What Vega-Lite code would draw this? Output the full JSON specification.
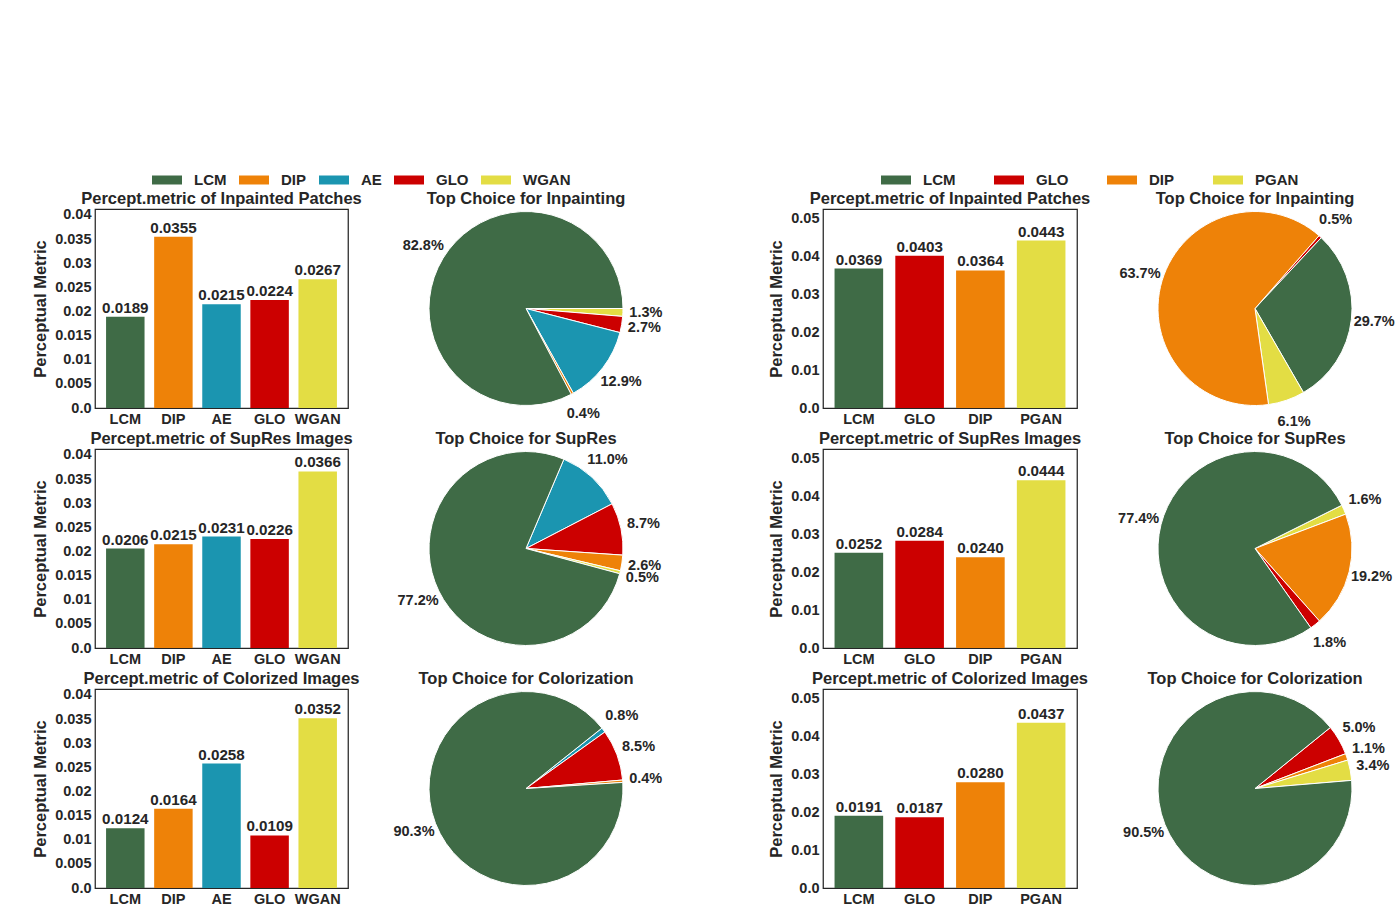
{
  "$schema": "https://vega.github.io/schema/vega-lite/v6.json",
  "background": "white",
  "padding": {"left": 32, "top": 165, "right": 2, "bottom": 2},
  "config": {
    "font": "Liberation Sans",
    "view": {"stroke": "#262626", "strokeWidth": 1.25},
    "axis": {"domain": false, "ticks": false, "grid": false, "labelFont": "Liberation Sans", "labelFontSize": 14.5, "labelFontWeight": "bold", "labelColor": "#262626", "labelPadding": 4, "titleFont": "Liberation Sans", "titleFontSize": 16.5, "titleFontWeight": "bold", "titleColor": "#262626", "titlePadding": 6},
    "axisX": {"labelPadding": 4},
    "title": {"font": "Liberation Sans", "fontSize": 16.5, "fontWeight": "bold", "color": "#262626", "offset": 2, "frame": "group"},
    "legend": {"labelFont": "Liberation Sans", "labelFontSize": 15, "labelFontWeight": "bold", "labelColor": "#262626", "symbolStrokeWidth": 0, "symbolOpacity": 1, "labelOffset": 12}
  },
  "datasets": {
    "bars": [
      {"g": "L", "t": "Inpainting", "m": "LCM", "v": 0.0189},
      {"g": "L", "t": "Inpainting", "m": "DIP", "v": 0.0355},
      {"g": "L", "t": "Inpainting", "m": "AE", "v": 0.0215},
      {"g": "L", "t": "Inpainting", "m": "GLO", "v": 0.0224},
      {"g": "L", "t": "Inpainting", "m": "WGAN", "v": 0.0267},
      {"g": "L", "t": "SupRes", "m": "LCM", "v": 0.0206},
      {"g": "L", "t": "SupRes", "m": "DIP", "v": 0.0215},
      {"g": "L", "t": "SupRes", "m": "AE", "v": 0.0231},
      {"g": "L", "t": "SupRes", "m": "GLO", "v": 0.0226},
      {"g": "L", "t": "SupRes", "m": "WGAN", "v": 0.0366},
      {"g": "L", "t": "Colorization", "m": "LCM", "v": 0.0124},
      {"g": "L", "t": "Colorization", "m": "DIP", "v": 0.0164},
      {"g": "L", "t": "Colorization", "m": "AE", "v": 0.0258},
      {"g": "L", "t": "Colorization", "m": "GLO", "v": 0.0109},
      {"g": "L", "t": "Colorization", "m": "WGAN", "v": 0.0352},
      {"g": "R", "t": "Inpainting", "m": "LCM", "v": 0.0369},
      {"g": "R", "t": "Inpainting", "m": "GLO", "v": 0.0403},
      {"g": "R", "t": "Inpainting", "m": "DIP", "v": 0.0364},
      {"g": "R", "t": "Inpainting", "m": "PGAN", "v": 0.0443},
      {"g": "R", "t": "SupRes", "m": "LCM", "v": 0.0252},
      {"g": "R", "t": "SupRes", "m": "GLO", "v": 0.0284},
      {"g": "R", "t": "SupRes", "m": "DIP", "v": 0.0240},
      {"g": "R", "t": "SupRes", "m": "PGAN", "v": 0.0444},
      {"g": "R", "t": "Colorization", "m": "LCM", "v": 0.0191},
      {"g": "R", "t": "Colorization", "m": "GLO", "v": 0.0187},
      {"g": "R", "t": "Colorization", "m": "DIP", "v": 0.0280},
      {"g": "R", "t": "Colorization", "m": "PGAN", "v": 0.0437}
    ],
    "pies": [
      {"g": "L", "t": "Inpainting", "m": "WGAN", "p": 1.3},
      {"g": "L", "t": "Inpainting", "m": "GLO", "p": 2.7},
      {"g": "L", "t": "Inpainting", "m": "AE", "p": 12.9},
      {"g": "L", "t": "Inpainting", "m": "DIP", "p": 0.4},
      {"g": "L", "t": "Inpainting", "m": "LCM", "p": 82.8},
      {"g": "L", "t": "SupRes", "m": "AE", "p": 11.0},
      {"g": "L", "t": "SupRes", "m": "GLO", "p": 8.7},
      {"g": "L", "t": "SupRes", "m": "DIP", "p": 2.6},
      {"g": "L", "t": "SupRes", "m": "WGAN", "p": 0.5},
      {"g": "L", "t": "SupRes", "m": "LCM", "p": 77.2},
      {"g": "L", "t": "Colorization", "m": "AE", "p": 0.8},
      {"g": "L", "t": "Colorization", "m": "GLO", "p": 8.5},
      {"g": "L", "t": "Colorization", "m": "DIP", "p": 0.4},
      {"g": "L", "t": "Colorization", "m": "LCM", "p": 90.3},
      {"g": "R", "t": "Inpainting", "m": "GLO", "p": 0.5},
      {"g": "R", "t": "Inpainting", "m": "LCM", "p": 29.7},
      {"g": "R", "t": "Inpainting", "m": "PGAN", "p": 6.1},
      {"g": "R", "t": "Inpainting", "m": "DIP", "p": 63.7},
      {"g": "R", "t": "SupRes", "m": "PGAN", "p": 1.6},
      {"g": "R", "t": "SupRes", "m": "DIP", "p": 19.2},
      {"g": "R", "t": "SupRes", "m": "GLO", "p": 1.8},
      {"g": "R", "t": "SupRes", "m": "LCM", "p": 77.4},
      {"g": "R", "t": "Colorization", "m": "GLO", "p": 5.0},
      {"g": "R", "t": "Colorization", "m": "DIP", "p": 1.1},
      {"g": "R", "t": "Colorization", "m": "PGAN", "p": 3.4},
      {"g": "R", "t": "Colorization", "m": "LCM", "p": 90.5}
    ]
  },
  "columns": 5,
  "spacing": {"row": 41, "column": 78},
  "bounds": "flush",
  "align": "each",
  "resolve": {"scale": {"theta": "independent"}},
  "concat": [
    {
      "width": 253, "height": 199,
      "title": {"text": "Percept.metric of Inpainted Patches", "offset": -1},
      "data": {"name": "bars"},
      "transform": [{"filter": "datum.g === 'L' && datum.t === 'Inpainting'"}],
      "encoding": {
        "x": {"field": "m", "type": "nominal", "sort": null, "scale": {"paddingInner": 0.2, "paddingOuter": 0.23}, "axis": {"title": null, "labelAngle": 0}},
        "y": {"field": "v", "type": "quantitative", "scale": {"domain": [0, 0.04124], "nice": false}, "axis": {"title": "Perceptual Metric", "values": [0, 0.005, 0.01, 0.015, 0.02, 0.025, 0.03, 0.035, 0.04], "labelExpr": "datum.value === 0 ? '0.0' : format(datum.value, '~g')"}}
      },
      "layer": [
        {"mark": "bar", "encoding": {"color": {"field": "m", "type": "nominal", "scale": {"domain": ["LCM", "DIP", "AE", "GLO", "WGAN"], "range": ["#3f6b46", "#ee8208", "#1b95b0", "#cc0000", "#e3dd44"]}, "legend": {"orient": "none", "legendX": 57, "legendY": -44, "direction": "horizontal", "columns": 5, "title": null, "columnPadding": 12, "symbolType": "M-1,-0.3H1V0.3H-1Z", "symbolSize": 900}}}},
        {"mark": {"type": "text", "baseline": "bottom", "dy": -1, "fontSize": 15.2, "fontWeight": "bold", "color": "#262626"}, "encoding": {"text": {"field": "v", "format": ".4f"}}}
      ]
    },
    {
      "width": 200, "height": 199,
      "view": {"stroke": null},
      "title": "Top Choice for Inpainting",
      "data": {"name": "pies"},
      "transform": [{"filter": "datum.g === 'L' && datum.t === 'Inpainting'"}, {"window": [{"op": "row_number", "as": "k"}]}, {"calculate": "format(datum.p, '.1f') + '%'", "as": "lab"}],
      "encoding": {
        "theta": {"field": "p", "type": "quantitative", "stack": true, "scale": {"range": [1.5708, 7.8540]}},
        "order": {"field": "k", "type": "quantitative"},
        "detail": {"field": "m", "type": "nominal"}
      },
      "layer": [
        {"mark": {"type": "arc", "outerRadius": 97, "stroke": "white", "strokeWidth": 1}, "encoding": {"color": {"field": "m", "type": "nominal", "scale": {"domain": ["LCM", "DIP", "AE", "GLO", "WGAN"], "range": ["#3f6b46", "#ee8208", "#1b95b0", "#cc0000", "#e3dd44"]}, "legend": {"orient": "none", "legendX": 57, "legendY": -44, "direction": "horizontal", "columns": 5, "title": null, "columnPadding": 12, "symbolType": "M-1,-0.3H1V0.3H-1Z", "symbolSize": 900}}}},
        {"mark": {"type": "text", "radius": 120, "fontSize": 14.5, "fontWeight": "bold", "color": "#262626", "baseline": "middle", "align": "center"}, "encoding": {"text": {"field": "lab"}}}
      ]
    },
    {
      "width": 41, "height": 199, "view": {"stroke": null},
      "data": {"values": [{}]},
      "mark": {"type": "text"},
      "encoding": {"text": {"value": ""}}
    },
    {
      "width": 254, "height": 199,
      "title": "Percept.metric of Inpainted Patches",
      "data": {"name": "bars"},
      "transform": [{"filter": "datum.g === 'R' && datum.t === 'Inpainting'"}],
      "encoding": {
        "x": {"field": "m", "type": "nominal", "sort": null, "scale": {"paddingInner": 0.2, "paddingOuter": 0.19}, "axis": {"title": null, "labelAngle": 0}},
        "y": {"field": "v", "type": "quantitative", "scale": {"domain": [0, 0.05264], "nice": false}, "axis": {"title": "Perceptual Metric", "values": [0, 0.01, 0.02, 0.03, 0.04, 0.05], "labelExpr": "datum.value === 0 ? '0.0' : format(datum.value, '~g')"}}
      },
      "layer": [
        {"mark": "bar", "encoding": {"fill": {"field": "m", "type": "nominal", "scale": {"domain": ["LCM", "GLO", "DIP", "PGAN"], "range": ["#3f6b46", "#cc0000", "#ee8208", "#e3dd44"]}, "legend": {"orient": "none", "legendX": 786, "legendY": -44, "direction": "horizontal", "columns": 4, "title": null, "columnPadding": 38, "symbolType": "M-1,-0.3H1V0.3H-1Z", "symbolSize": 900}}}},
        {"mark": {"type": "text", "baseline": "bottom", "dy": -1, "fontSize": 15.2, "fontWeight": "bold", "color": "#262626"}, "encoding": {"text": {"field": "v", "format": ".4f"}}}
      ]
    },
    {
      "width": 200, "height": 199,
      "view": {"stroke": null},
      "title": "Top Choice for Inpainting",
      "data": {"name": "pies"},
      "transform": [{"filter": "datum.g === 'R' && datum.t === 'Inpainting'"}, {"window": [{"op": "row_number", "as": "k"}]}, {"calculate": "format(datum.p, '.1f') + '%'", "as": "lab"}],
      "encoding": {
        "theta": {"field": "p", "type": "quantitative", "stack": true, "scale": {"range": [0.7208, 7.0040]}},
        "order": {"field": "k", "type": "quantitative"},
        "detail": {"field": "m", "type": "nominal"}
      },
      "layer": [
        {"mark": {"type": "arc", "outerRadius": 97, "stroke": "white", "strokeWidth": 1}, "encoding": {"fill": {"field": "m", "type": "nominal", "scale": {"domain": ["LCM", "GLO", "DIP", "PGAN"], "range": ["#3f6b46", "#cc0000", "#ee8208", "#e3dd44"]}, "legend": {"orient": "none", "legendX": 786, "legendY": -44, "direction": "horizontal", "columns": 4, "title": null, "columnPadding": 38, "symbolType": "M-1,-0.3H1V0.3H-1Z", "symbolSize": 900}}}},
        {"mark": {"type": "text", "radius": 120, "fontSize": 14.5, "fontWeight": "bold", "color": "#262626", "baseline": "middle", "align": "center"}, "encoding": {"text": {"field": "lab"}}}
      ]
    },
    {
      "width": 253, "height": 199,
      "title": {"text": "Percept.metric of SupRes Images", "offset": -1},
      "data": {"name": "bars"},
      "transform": [{"filter": "datum.g === 'L' && datum.t === 'SupRes'"}],
      "encoding": {
        "x": {"field": "m", "type": "nominal", "sort": null, "scale": {"paddingInner": 0.2, "paddingOuter": 0.23}, "axis": {"title": null, "labelAngle": 0}},
        "y": {"field": "v", "type": "quantitative", "scale": {"domain": [0, 0.04124], "nice": false}, "axis": {"title": "Perceptual Metric", "values": [0, 0.005, 0.01, 0.015, 0.02, 0.025, 0.03, 0.035, 0.04], "labelExpr": "datum.value === 0 ? '0.0' : format(datum.value, '~g')"}}
      },
      "layer": [
        {"mark": "bar", "encoding": {"color": {"field": "m", "type": "nominal", "scale": {"domain": ["LCM", "DIP", "AE", "GLO", "WGAN"], "range": ["#3f6b46", "#ee8208", "#1b95b0", "#cc0000", "#e3dd44"]}, "legend": {"orient": "none", "legendX": 57, "legendY": -44, "direction": "horizontal", "columns": 5, "title": null, "columnPadding": 12, "symbolType": "M-1,-0.3H1V0.3H-1Z", "symbolSize": 900}}}},
        {"mark": {"type": "text", "baseline": "bottom", "dy": -1, "fontSize": 15.2, "fontWeight": "bold", "color": "#262626"}, "encoding": {"text": {"field": "v", "format": ".4f"}}}
      ]
    },
    {
      "width": 200, "height": 199,
      "view": {"stroke": null},
      "title": "Top Choice for SupRes",
      "data": {"name": "pies"},
      "transform": [{"filter": "datum.g === 'L' && datum.t === 'SupRes'"}, {"window": [{"op": "row_number", "as": "k"}]}, {"calculate": "format(datum.p, '.1f') + '%'", "as": "lab"}],
      "encoding": {
        "theta": {"field": "p", "type": "quantitative", "stack": true, "scale": {"range": [0.4014, 6.6846]}},
        "order": {"field": "k", "type": "quantitative"},
        "detail": {"field": "m", "type": "nominal"}
      },
      "layer": [
        {"mark": {"type": "arc", "outerRadius": 97, "stroke": "white", "strokeWidth": 1}, "encoding": {"color": {"field": "m", "type": "nominal", "scale": {"domain": ["LCM", "DIP", "AE", "GLO", "WGAN"], "range": ["#3f6b46", "#ee8208", "#1b95b0", "#cc0000", "#e3dd44"]}, "legend": {"orient": "none", "legendX": 57, "legendY": -44, "direction": "horizontal", "columns": 5, "title": null, "columnPadding": 12, "symbolType": "M-1,-0.3H1V0.3H-1Z", "symbolSize": 900}}}},
        {"mark": {"type": "text", "radius": 120, "fontSize": 14.5, "fontWeight": "bold", "color": "#262626", "baseline": "middle", "align": "center"}, "encoding": {"text": {"field": "lab"}}}
      ]
    },
    {
      "width": 41, "height": 199, "view": {"stroke": null},
      "data": {"values": [{}]},
      "mark": {"type": "text"},
      "encoding": {"text": {"value": ""}}
    },
    {
      "width": 254, "height": 199,
      "title": "Percept.metric of SupRes Images",
      "data": {"name": "bars"},
      "transform": [{"filter": "datum.g === 'R' && datum.t === 'SupRes'"}],
      "encoding": {
        "x": {"field": "m", "type": "nominal", "sort": null, "scale": {"paddingInner": 0.2, "paddingOuter": 0.19}, "axis": {"title": null, "labelAngle": 0}},
        "y": {"field": "v", "type": "quantitative", "scale": {"domain": [0, 0.05264], "nice": false}, "axis": {"title": "Perceptual Metric", "values": [0, 0.01, 0.02, 0.03, 0.04, 0.05], "labelExpr": "datum.value === 0 ? '0.0' : format(datum.value, '~g')"}}
      },
      "layer": [
        {"mark": "bar", "encoding": {"fill": {"field": "m", "type": "nominal", "scale": {"domain": ["LCM", "GLO", "DIP", "PGAN"], "range": ["#3f6b46", "#cc0000", "#ee8208", "#e3dd44"]}, "legend": {"orient": "none", "legendX": 786, "legendY": -44, "direction": "horizontal", "columns": 4, "title": null, "columnPadding": 38, "symbolType": "M-1,-0.3H1V0.3H-1Z", "symbolSize": 900}}}},
        {"mark": {"type": "text", "baseline": "bottom", "dy": -1, "fontSize": 15.2, "fontWeight": "bold", "color": "#262626"}, "encoding": {"text": {"field": "v", "format": ".4f"}}}
      ]
    },
    {
      "width": 200, "height": 199,
      "view": {"stroke": null},
      "title": "Top Choice for SupRes",
      "data": {"name": "pies"},
      "transform": [{"filter": "datum.g === 'R' && datum.t === 'SupRes'"}, {"window": [{"op": "row_number", "as": "k"}]}, {"calculate": "format(datum.p, '.1f') + '%'", "as": "lab"}],
      "encoding": {
        "theta": {"field": "p", "type": "quantitative", "stack": true, "scale": {"range": [1.1083, 7.3915]}},
        "order": {"field": "k", "type": "quantitative"},
        "detail": {"field": "m", "type": "nominal"}
      },
      "layer": [
        {"mark": {"type": "arc", "outerRadius": 97, "stroke": "white", "strokeWidth": 1}, "encoding": {"fill": {"field": "m", "type": "nominal", "scale": {"domain": ["LCM", "GLO", "DIP", "PGAN"], "range": ["#3f6b46", "#cc0000", "#ee8208", "#e3dd44"]}, "legend": {"orient": "none", "legendX": 786, "legendY": -44, "direction": "horizontal", "columns": 4, "title": null, "columnPadding": 38, "symbolType": "M-1,-0.3H1V0.3H-1Z", "symbolSize": 900}}}},
        {"mark": {"type": "text", "radius": 120, "fontSize": 14.5, "fontWeight": "bold", "color": "#262626", "baseline": "middle", "align": "center"}, "encoding": {"text": {"field": "lab"}}}
      ]
    },
    {
      "width": 253, "height": 199,
      "title": {"text": "Percept.metric of Colorized Images", "offset": -1},
      "data": {"name": "bars"},
      "transform": [{"filter": "datum.g === 'L' && datum.t === 'Colorization'"}],
      "encoding": {
        "x": {"field": "m", "type": "nominal", "sort": null, "scale": {"paddingInner": 0.2, "paddingOuter": 0.23}, "axis": {"title": null, "labelAngle": 0}},
        "y": {"field": "v", "type": "quantitative", "scale": {"domain": [0, 0.04124], "nice": false}, "axis": {"title": "Perceptual Metric", "values": [0, 0.005, 0.01, 0.015, 0.02, 0.025, 0.03, 0.035, 0.04], "labelExpr": "datum.value === 0 ? '0.0' : format(datum.value, '~g')"}}
      },
      "layer": [
        {"mark": "bar", "encoding": {"color": {"field": "m", "type": "nominal", "scale": {"domain": ["LCM", "DIP", "AE", "GLO", "WGAN"], "range": ["#3f6b46", "#ee8208", "#1b95b0", "#cc0000", "#e3dd44"]}, "legend": {"orient": "none", "legendX": 57, "legendY": -44, "direction": "horizontal", "columns": 5, "title": null, "columnPadding": 12, "symbolType": "M-1,-0.3H1V0.3H-1Z", "symbolSize": 900}}}},
        {"mark": {"type": "text", "baseline": "bottom", "dy": -1, "fontSize": 15.2, "fontWeight": "bold", "color": "#262626"}, "encoding": {"text": {"field": "v", "format": ".4f"}}}
      ]
    },
    {
      "width": 200, "height": 199,
      "view": {"stroke": null},
      "title": "Top Choice for Colorization",
      "data": {"name": "pies"},
      "transform": [{"filter": "datum.g === 'L' && datum.t === 'Colorization'"}, {"window": [{"op": "row_number", "as": "k"}]}, {"calculate": "format(datum.p, '.1f') + '%'", "as": "lab"}],
      "encoding": {
        "theta": {"field": "p", "type": "quantitative", "stack": true, "scale": {"range": [0.8988, 7.1820]}},
        "order": {"field": "k", "type": "quantitative"},
        "detail": {"field": "m", "type": "nominal"}
      },
      "layer": [
        {"mark": {"type": "arc", "outerRadius": 97, "stroke": "white", "strokeWidth": 1}, "encoding": {"color": {"field": "m", "type": "nominal", "scale": {"domain": ["LCM", "DIP", "AE", "GLO", "WGAN"], "range": ["#3f6b46", "#ee8208", "#1b95b0", "#cc0000", "#e3dd44"]}, "legend": {"orient": "none", "legendX": 57, "legendY": -44, "direction": "horizontal", "columns": 5, "title": null, "columnPadding": 12, "symbolType": "M-1,-0.3H1V0.3H-1Z", "symbolSize": 900}}}},
        {"mark": {"type": "text", "radius": 120, "fontSize": 14.5, "fontWeight": "bold", "color": "#262626", "baseline": "middle", "align": "center"}, "encoding": {"text": {"field": "lab"}}}
      ]
    },
    {
      "width": 41, "height": 199, "view": {"stroke": null},
      "data": {"values": [{}]},
      "mark": {"type": "text"},
      "encoding": {"text": {"value": ""}}
    },
    {
      "width": 254, "height": 199,
      "title": "Percept.metric of Colorized Images",
      "data": {"name": "bars"},
      "transform": [{"filter": "datum.g === 'R' && datum.t === 'Colorization'"}],
      "encoding": {
        "x": {"field": "m", "type": "nominal", "sort": null, "scale": {"paddingInner": 0.2, "paddingOuter": 0.19}, "axis": {"title": null, "labelAngle": 0}},
        "y": {"field": "v", "type": "quantitative", "scale": {"domain": [0, 0.05264], "nice": false}, "axis": {"title": "Perceptual Metric", "values": [0, 0.01, 0.02, 0.03, 0.04, 0.05], "labelExpr": "datum.value === 0 ? '0.0' : format(datum.value, '~g')"}}
      },
      "layer": [
        {"mark": "bar", "encoding": {"fill": {"field": "m", "type": "nominal", "scale": {"domain": ["LCM", "GLO", "DIP", "PGAN"], "range": ["#3f6b46", "#cc0000", "#ee8208", "#e3dd44"]}, "legend": {"orient": "none", "legendX": 786, "legendY": -44, "direction": "horizontal", "columns": 4, "title": null, "columnPadding": 38, "symbolType": "M-1,-0.3H1V0.3H-1Z", "symbolSize": 900}}}},
        {"mark": {"type": "text", "baseline": "bottom", "dy": -1, "fontSize": 15.2, "fontWeight": "bold", "color": "#262626"}, "encoding": {"text": {"field": "v", "format": ".4f"}}}
      ]
    },
    {
      "width": 200, "height": 199,
      "view": {"stroke": null},
      "title": "Top Choice for Colorization",
      "data": {"name": "pies"},
      "transform": [{"filter": "datum.g === 'R' && datum.t === 'Colorization'"}, {"window": [{"op": "row_number", "as": "k"}]}, {"calculate": "format(datum.p, '.1f') + '%'", "as": "lab"}],
      "encoding": {
        "theta": {"field": "p", "type": "quantitative", "stack": true, "scale": {"range": [0.8901, 7.1733]}},
        "order": {"field": "k", "type": "quantitative"},
        "detail": {"field": "m", "type": "nominal"}
      },
      "layer": [
        {"mark": {"type": "arc", "outerRadius": 97, "stroke": "white", "strokeWidth": 1}, "encoding": {"fill": {"field": "m", "type": "nominal", "scale": {"domain": ["LCM", "GLO", "DIP", "PGAN"], "range": ["#3f6b46", "#cc0000", "#ee8208", "#e3dd44"]}, "legend": {"orient": "none", "legendX": 786, "legendY": -44, "direction": "horizontal", "columns": 4, "title": null, "columnPadding": 38, "symbolType": "M-1,-0.3H1V0.3H-1Z", "symbolSize": 900}}}},
        {"mark": {"type": "text", "radius": 120, "fontSize": 14.5, "fontWeight": "bold", "color": "#262626", "baseline": "middle", "align": "center"}, "encoding": {"text": {"field": "lab"}}}
      ]
    }
  ]
}
